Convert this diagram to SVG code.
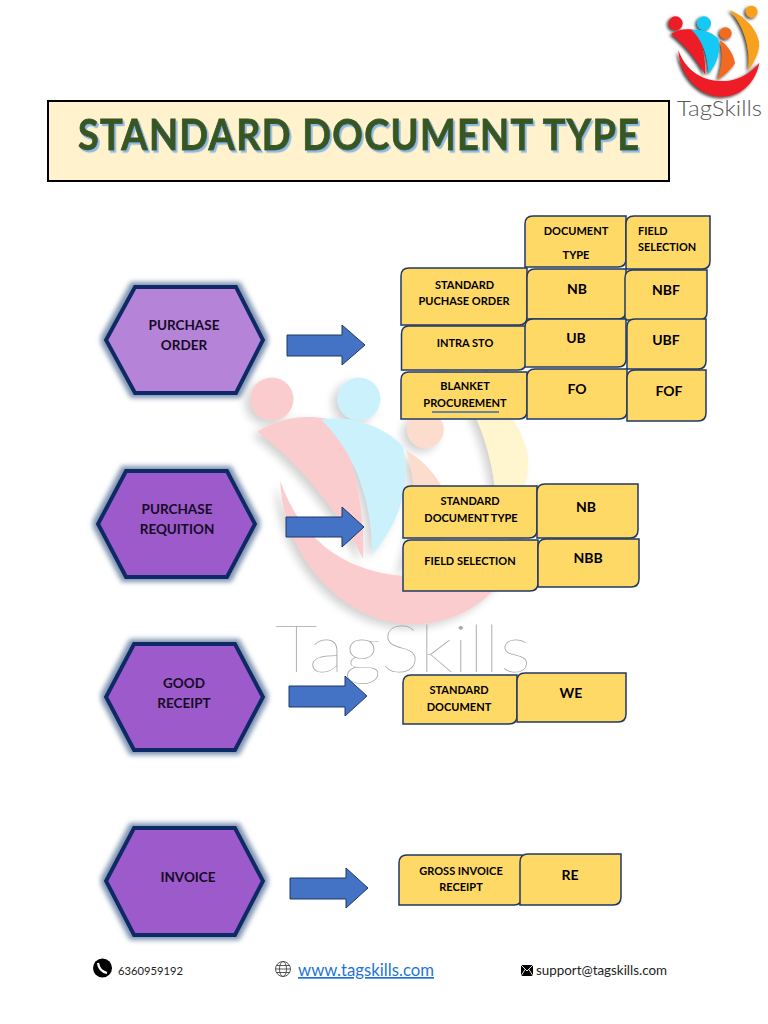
<svg xmlns="http://www.w3.org/2000/svg" xmlns:xlink="http://www.w3.org/1999/xlink" width="768" height="1024" viewBox="0 0 768 1024">
<style>
text{font-family:Lato,"Open Sans",sans-serif}
.c{text-anchor:middle;font-weight:700;fill:#000;font-size:11px}
.l{font-weight:700;fill:#000;font-size:10.900px}
.v{text-anchor:middle;font-weight:700;fill:#000;font-size:14px}
.h{text-anchor:middle;font-weight:700;fill:#160a26;font-size:13.500px}
.box{fill:#FFD966;stroke:#203864;stroke-width:1.500}
.hex{stroke:#0E2A66;stroke-width:4;stroke-linejoin:miter;filter:url(#glow)}
.ar{fill:#4472C4;stroke:#1F3864;stroke-width:1}
.brand{font-weight:300;fill:#555}
.f{fill:#222;font-size:13px}
</style>
<defs>
<filter id="glow" x="-15%" y="-15%" width="130%" height="130%">
<feMorphology in="SourceAlpha" operator="dilate" radius="2.500" result="d"/>
<feGaussianBlur in="d" stdDeviation="2.500" result="b"/>
<feFlood flood-color="#6F86A8" flood-opacity="0.9"/>
<feComposite in2="b" operator="in" result="g"/>
<feMerge><feMergeNode in="g"/><feMergeNode in="SourceGraphic"/></feMerge>
</filter>
<filter id="ts" x="-5%" y="-20%" width="110%" height="140%"><feDropShadow dx="1.800" dy="2" stdDeviation="0.300" flood-color="#8DB9E2"/></filter>
<filter id="sh" x="-30%" y="-30%" width="160%" height="160%"><feDropShadow dx="-5" dy="4" stdDeviation="4" flood-color="#111" flood-opacity="0.85"/></filter>
<g id="logo" filter="url(#sh)" transform="translate(640 0) scale(.3333)">
<path fill="#EE1C25" d="M115,150C118,225 178,290 245,290C305,290 348,245 358,188C325,228 285,246 238,243C180,240 135,208 115,150Z"/>
<path fill="#EE1C25" d="M93,102C120,85 150,85 170,92C188,130 198,180 196,226C178,190 138,135 93,102Z"/>
<circle fill="#EE1C25" cx="107" cy="70" r="21"/>
<path fill="#12C8F5" d="M155,90C190,85 220,100 235,116C244,160 228,195 205,222C205,170 190,125 155,90Z"/>
<circle fill="#12C8F5" cx="192" cy="70" r="21"/>
<path fill="#F26A21" d="M238,120C265,135 282,165 285,190C272,210 252,228 233,238C248,195 250,155 238,120Z"/>
<circle fill="#F26A21" cx="257" cy="100" r="18"/>
<path style="fill:var(--y,#F9A01B)" d="M268,30C310,45 350,85 357,125C360,155 342,185 325,212C332,150 315,80 268,30Z"/>
<circle style="fill:var(--y,#F9A01B)" cx="335" cy="35" r="18"/>
</g>
</defs>

<g id="watermark" opacity="0.22" style="--y:#FFD82E">
<use xlink:href="#logo" href="#logo" transform="translate(273 398) scale(3.07) translate(-676 -23)"/>
</g>
<text id="watermark-text" x="275" y="672" font-size="66" textLength="256" lengthAdjust="spacingAndGlyphs" style="font-weight:100;fill:#777" opacity="0.65">TagSkills</text>

<g id="brand">
<use xlink:href="#logo" href="#logo"/>
<text x="677" y="116" font-size="22" textLength="85" lengthAdjust="spacingAndGlyphs" class="brand">TagSkills</text>
</g>

<g id="title">
<rect x="48" y="101" width="621" height="80" fill="#FFF2CC" stroke="#000" stroke-width="2"/>
<text transform="translate(78 150) scale(1 1.120)" font-size="38" font-weight="700" fill="#375623" stroke="#375623" stroke-width="0.700" textLength="561" lengthAdjust="spacing" filter="url(#ts)">STANDARD DOCUMENT TYPE</text>
</g>

<g id="connectors">
<path class="ar" d="M287,335H342V325L365,345L342,365V356H287Z"/>
<path class="ar" d="M286,517H342V507L364,527L342,547V537H286Z"/>
<path class="ar" d="M289,686H345V676L367,696L345,716V707H289Z"/>
<path class="ar" d="M290,878H346V868L368,888L346,908V899H290Z"/>
</g>

<g id="hex-purchase-order">
<path class="hex" fill="#B583D8" d="M106,340L135,287H236L263,340L236,393H135Z"/>
<text class="h" x="184" y="330">PURCHASE</text><text class="h" x="184" y="350">ORDER</text>
</g>
<g id="hex-purchase-requition">
<path class="hex" fill="#9C5ACB" d="M98,524L126,471H227L255,524L227,577H126Z"/>
<text class="h" x="177" y="514">PURCHASE</text><text class="h" x="177" y="534">REQUITION</text>
</g>
<g id="hex-good-receipt">
<path class="hex" fill="#9C5ACB" d="M106,697L134,644H235L263,697L235,750H134Z"/>
<text class="h" x="184" y="688">GOOD</text><text class="h" x="184" y="708">RECEIPT</text>
</g>
<g id="hex-invoice">
<path class="hex" fill="#9C5ACB" d="M106,881L134,828H235L263,881L235,935H134Z"/>
<text class="h" x="188" y="882">INVOICE</text>
</g>

<g id="cell-document-type"><path class="box" d="M533,216H626V259Q626,267 618,267H525V224Q525,216 533,216Z"/><text class="c" x="576" y="235">DOCUMENT</text><text class="c" x="576" y="259">TYPE</text></g>
<g id="cell-field-selection"><path class="box" d="M634,216H710V261Q710,269 702,269H626V224Q626,216 634,216Z"/><text class="l" x="638" y="235">FIELD</text><text class="l" x="638" y="251">SELECTION</text></g>
<g id="cell-standard-po"><path class="box" d="M409,268H527V317Q527,325 519,325H401V276Q401,268 409,268Z"/><text class="c" x="464.500" y="289">STANDARD</text><text class="c" x="464" y="305">PUCHASE ORDER</text></g>
<g id="cell-nb"><path class="box" d="M535,269H626V311Q626,319 618,319H527V277Q527,269 535,269Z"/><text class="v" x="577" y="294">NB</text></g>
<g id="cell-nbf"><path class="box" d="M633,270H707V312Q707,320 699,320H625V278Q625,270 633,270Z"/><text class="v" x="666" y="295">NBF</text></g>
<g id="cell-intra-sto"><path class="box" d="M409,326H526V362Q526,370 518,370H401.500V334Q401.500,326 409,326Z"/><text class="c" x="465" y="347">INTRA STO</text></g>
<g id="cell-ub"><path class="box" d="M533,319H626V359Q626,367 618,367H525V327Q525,319 533,319Z"/><text class="v" x="576" y="343">UB</text></g>
<g id="cell-ubf"><path class="box" d="M635,319H706V361Q706,369 698,369H627V327Q627,319 635,319Z"/><text class="v" x="666" y="345">UBF</text></g>
<g id="cell-blanket"><path class="box" d="M409,372H527V411Q527,419 519,419H401V380Q401,372 409,372Z"/><text class="c" x="465" y="390">BLANKET</text><text class="c" x="465" y="407">PROCUREMENT</text><path d="M432,412H499" stroke="#3A66B8" stroke-width="1.500" fill="none"/></g>
<g id="cell-fo"><path class="box" d="M535,369H627V411Q627,419 619,419H527V377Q527,369 535,369Z"/><text class="v" x="577" y="394">FO</text></g>
<g id="cell-fof"><path class="box" d="M635,370H706V413Q706,421 698,421H627V378Q627,370 635,370Z"/><text class="v" x="669" y="396">FOF</text></g>

<g id="cell-standard-doc-type"><path class="box" d="M411,486H537V530Q537,538 529,538H403V494Q403,486 411,486Z"/><text class="c" x="470" y="505">STANDARD</text><text class="c" x="471" y="522">DOCUMENT TYPE</text></g>
<g id="cell-nb2"><path class="box" d="M545,484H638V530Q638,538 630,538H537V492Q537,484 545,484Z"/><text class="v" x="586" y="512">NB</text></g>
<g id="cell-field-selection2"><path class="box" d="M411,540H538V583Q538,591 530,591H403V548Q403,540 411,540Z"/><text class="c" x="470" y="565">FIELD SELECTION</text></g>
<g id="cell-nbb"><path class="box" d="M546,539H639V579Q639,587 631,587H538V547Q538,539 546,539Z"/><text class="v" x="588" y="563">NBB</text></g>

<g id="cell-standard-document"><path class="box" d="M411,675H517V716Q517,724 509,724H403V683Q403,675 411,675Z"/><text class="c" x="459" y="694">STANDARD</text><text class="c" x="459" y="711">DOCUMENT</text></g>
<g id="cell-we"><path class="box" d="M525,673H626V714Q626,722 618,722H517V681Q517,673 525,673Z"/><text class="v" x="571" y="698">WE</text></g>

<g id="cell-gross"><path class="box" d="M407,855H522V897Q522,905 514,905H399V863Q399,855 407,855Z"/><text class="c" x="461" y="875">GROSS INVOICE</text><text class="c" x="461" y="891">RECEIPT</text></g>
<g id="cell-re"><path class="box" d="M528,854H621V897Q621,905 613,905H520V862Q520,854 528,854Z"/><text class="v" x="570" y="880">RE</text></g>

<g id="footer">
<circle cx="102.500" cy="968" r="9.500" fill="#000"/>
<path d="M98,963Q99,971 107,973" stroke="#fff" stroke-width="2.200" fill="none"/>
<text class="f" x="118" y="975" style="font-size:12px" textLength="65" lengthAdjust="spacingAndGlyphs">6360959192</text>
<g fill="none" stroke="#444" stroke-width="0.900"><circle cx="283" cy="969" r="7.500"/><ellipse cx="283" cy="969" rx="3.500" ry="7.500"/><path d="M275.500,969H290.500M276.500,965.500H289.500M276.500,972.500H289.500"/></g>
<text x="298" y="976" style="font-size:17px" fill="#1F74D6" text-decoration="underline" textLength="136" lengthAdjust="spacingAndGlyphs">www.tagskills.com</text>
<path d="M521,965H533V976H521Z" fill="#000"/><path d="M521,965L527,971L533,965M521,976L525,969.500M533,976L529,969.500" stroke="#fff" stroke-width="0.900" fill="none"/>
<text class="f" x="536" y="975" style="font-size:13.500px" textLength="131" lengthAdjust="spacingAndGlyphs">support@tagskills.com</text>
</g>
</svg>
